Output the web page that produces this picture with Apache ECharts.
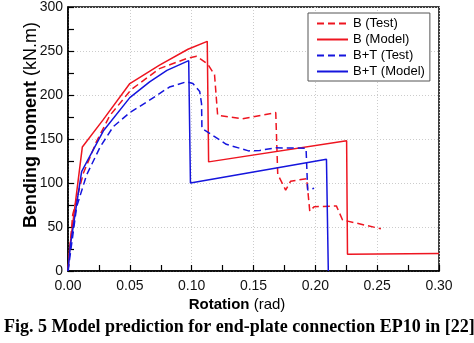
<!DOCTYPE html>
<html><head><meta charset="utf-8">
<script src="https://cdn.jsdelivr.net/npm/echarts@6/dist/echarts.min.js"></script>
<style>html,body{margin:0;padding:0;background:#fff}#c{width:474px;height:343px}</style>
</head><body><div id="c"></div>
<script>
// B (Test)
const bTestX = [0, 0.0038, 0.0124, 0.023, 0.034, 0.051, 0.074, 0.097, 0.104, 0.113, 0.1185, 0.121, 0.141, 0.168, 0.1696, 0.176, 0.180, 0.193, 0.1955, 0.199, 0.217, 0.222, 0.253];
const bTestY = [0, 64, 111, 147, 177, 206, 230, 242, 244, 235, 223, 177, 173, 180, 110, 92, 102, 105, 68, 73, 74, 58, 48];
// B (Model)
const bModelX = [0, 0.0012, 0.0116, 0.0285, 0.05, 0.074, 0.097, 0.1126, 0.1137, 0.2253, 0.226, 0.30];
const bModelY = [0, 24, 141, 172, 213, 234, 252, 261, 124, 148, 19, 20];
// B+T (Test)
const btTestX = [0, 0.007, 0.015, 0.026, 0.0366, 0.05, 0.0635, 0.082, 0.0957, 0.101, 0.1065, 0.108, 0.1083, 0.116, 0.128, 0.146, 0.155, 0.168, 0.1925, 0.1938, 0.199];
const btTestY = [0, 73, 109, 141, 164, 180, 192, 209, 215, 213, 204, 190, 162, 155, 144, 136.5, 137, 140, 139.5, 92, 94];
// B+T (Model)
const btModelX = [0, 0.002, 0.011, 0.0285, 0.05, 0.066, 0.08, 0.0976, 0.099, 0.209, 0.2105];
const btModelY = [0, 30, 113, 159, 197, 215, 228, 239, 100, 127, 0];

const seriesNames = ['B (Test)', 'B (Model)', 'B+T (Test)', 'B+T (Model)'];
const xTicks = [0, 0.05, 0.10, 0.15, 0.20, 0.25, 0.30];
const yTicks = [0, 50, 100, 150, 200, 250, 300];
const xTitleBold = 'Rotation', xTitleNormal = ' (rad)';
const yTitleBold = 'Bending moment', yTitleNormal = ' (kN.m)';
const caption = 'Fig. 5 Model prediction for end-plate connection EP10 in [22]';

const zip = (xs, ys) => xs.map((x, i) => [x, ys[i]]);
const RED = '#ee1520', BLUE = '#1515dd';
const FONT = 'Liberation Sans';

function mk(name, xs, ys, color, dashed) {
  return {
    name, type: 'line', data: zip(xs, ys), symbol: 'none', animation: false,
    lineStyle: { color, width: 1.5, type: dashed ? [7, 4] : 'solid' },
    itemStyle: { color }
  };
}

const chart = echarts.init(document.getElementById('c'), null, { renderer: 'canvas' });
chart.setOption({
  backgroundColor: '#fff',
  animation: false,
  grid: { left: 68, right: 35, top: 7, bottom: 72, show: true, borderColor: '#000', borderWidth: 1.5, backgroundColor: 'transparent' },
  xAxis: {
    type: 'value', min: xTicks[0], max: xTicks[xTicks.length - 1], interval: 0.05,
    axisLine: { show: true, onZero: false, lineStyle: { color: '#000', width: 1.5 } },
    axisTick: { show: true, inside: true, length: 6, lineStyle: { color: '#000', width: 1.2 } },
    minorTick: { show: true, splitNumber: 2, length: 6, lineStyle: { color: '#000', width: 1.2 } },
    axisLabel: { margin: 8, fontFamily: FONT, fontSize: 14, color: '#111', formatter: v => v.toFixed(2) },
    splitLine: { show: true, lineStyle: { color: '#ccc', type: [1, 2], width: 1 } }
  },
  yAxis: {
    type: 'value', min: yTicks[0], max: yTicks[yTicks.length - 1], interval: 50,
    axisLine: { show: true, onZero: false, lineStyle: { color: '#000', width: 1.5 } },
    axisTick: { show: true, inside: true, length: 6, lineStyle: { color: '#000', width: 1.2 } },
    minorTick: { show: true, splitNumber: 2, length: 6, lineStyle: { color: '#000', width: 1.2 } },
    axisLabel: { margin: 5, fontFamily: FONT, fontSize: 14, color: '#111' },
    splitLine: { show: true, lineStyle: { color: '#ccc', type: [1, 2], width: 1 } }
  },
  legend: {
    data: seriesNames, orient: 'vertical', left: 308, top: 13,
    itemWidth: 31, itemHeight: 14, itemGap: 3, padding: [4, 5, 3, 8],
    borderColor: '#555', borderWidth: 1, backgroundColor: '#fff',
    itemStyle: { opacity: 0 },
    textStyle: { fontFamily: FONT, fontSize: 13, color: '#000' }
  },
  graphic: [
    { type: 'text', left: 'center', top: 297, silent: true,
      style: { text: '{b|' + xTitleBold + '}{n|' + xTitleNormal + '}', rich: {
        b: { fontFamily: FONT, fontSize: 15, fontWeight: 'bold', fill: '#000' },
        n: { fontFamily: FONT, fontSize: 15, fill: '#000' } } } },
    { type: 'text', x: 31, y: 125, rotation: Math.PI / 2, silent: true,
      style: { text: '{b|' + yTitleBold + '}{n|' + yTitleNormal + '}', align: 'center', verticalAlign: 'middle', rich: {
        b: { fontFamily: FONT, fontSize: 18, fontWeight: 'bold', fill: '#000' },
        n: { fontFamily: FONT, fontSize: 18, fill: '#000' } } } },
    { type: 'text', x: 4, y: 327, silent: true,
      style: { text: caption, fontFamily: 'Liberation Serif', fontSize: 18, fontWeight: 'bold', fill: '#000', verticalAlign: 'middle' } }
  ],
  series: [
    mk(seriesNames[0], bTestX, bTestY, RED, true),
    mk(seriesNames[1], bModelX, bModelY, RED, false),
    mk(seriesNames[2], btTestX, btTestY, BLUE, true),
    mk(seriesNames[3], btModelX, btModelY, BLUE, false)
  ]
});
</script></body></html>
